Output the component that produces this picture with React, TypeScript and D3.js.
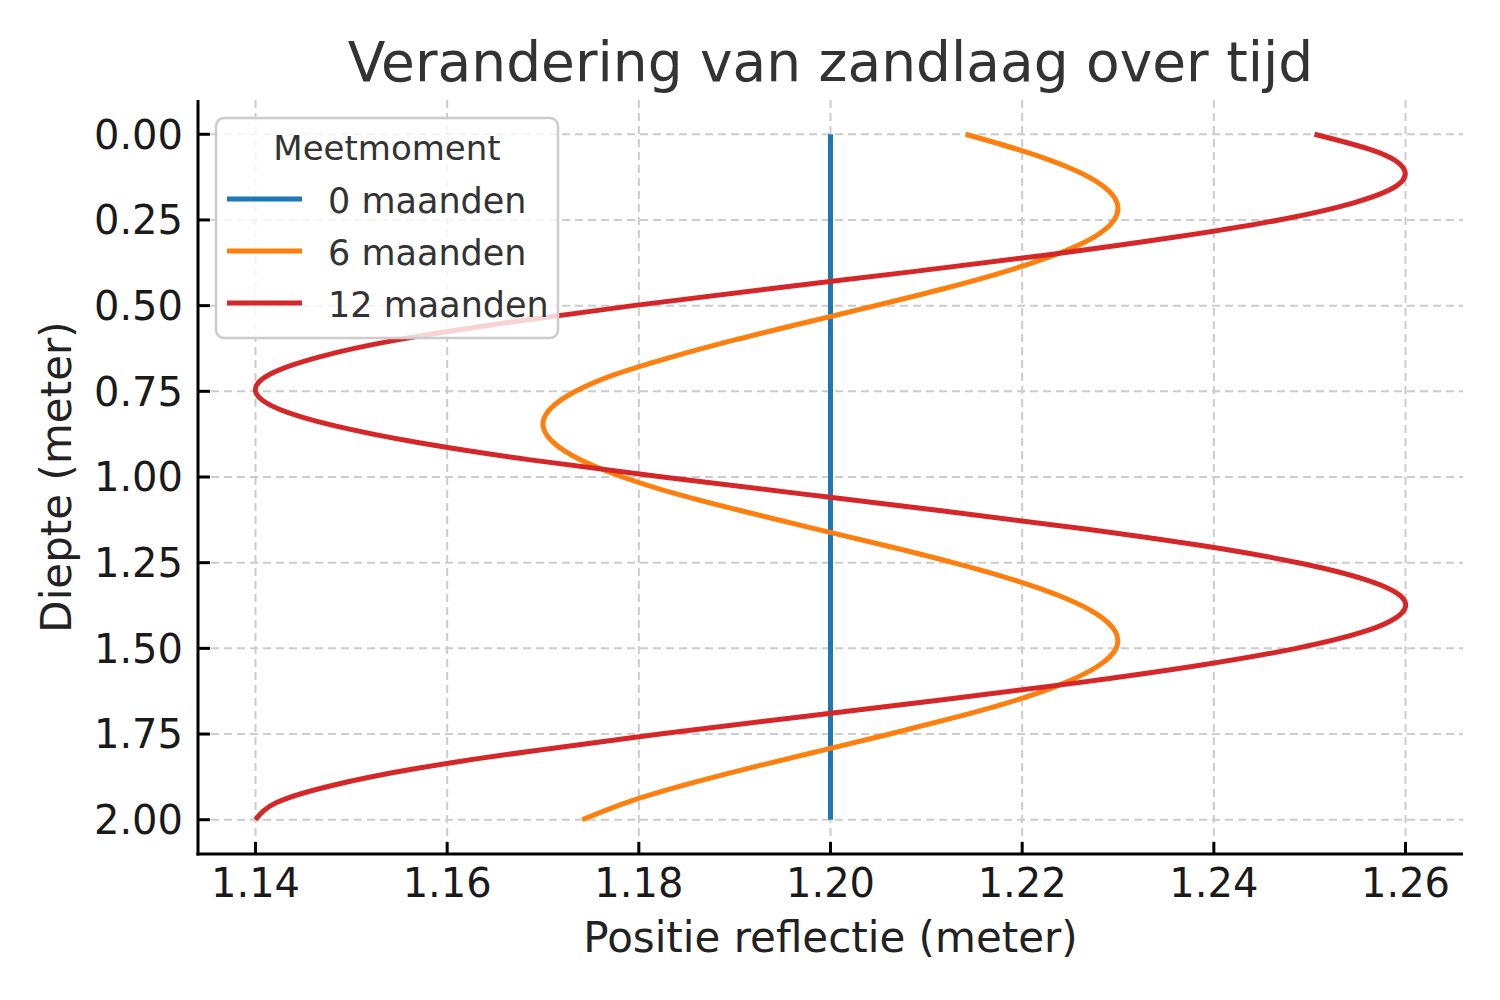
import * as React from 'react'
import * as d3 from 'd3'

// depth (meter) where each reading was taken
const depths = [
  0.0, 0.05, 0.1, 0.15, 0.2, 0.25, 0.3, 0.35, 0.4, 0.45,
  0.5, 0.55, 0.6, 0.65, 0.7, 0.75, 0.8, 0.85, 0.9, 0.95,
  1.0, 1.05, 1.1, 1.15, 1.2, 1.25, 1.3, 1.35, 1.4, 1.45,
  1.5, 1.55, 1.6, 1.65, 1.7, 1.75, 1.8, 1.85, 1.9, 1.95, 2.0,
]

const pos0 = [
  1.2, 1.2, 1.2, 1.2, 1.2, 1.2, 1.2, 1.2, 1.2, 1.2,
  1.2, 1.2, 1.2, 1.2, 1.2, 1.2, 1.2, 1.2, 1.2, 1.2,
  1.2, 1.2, 1.2, 1.2, 1.2, 1.2, 1.2, 1.2, 1.2, 1.2,
  1.2, 1.2, 1.2, 1.2, 1.2, 1.2, 1.2, 1.2, 1.2, 1.2, 1.2,
]

const pos6 = [
  1.2141, 1.2202, 1.2251, 1.2284, 1.2299, 1.2296, 1.2275, 1.2236, 1.2183, 1.2119,
  1.2047, 1.1973, 1.19, 1.1834, 1.1776, 1.1734, 1.1708, 1.17, 1.1711, 1.1739,
  1.1783, 1.184, 1.1909, 1.1982, 1.2057, 1.2128, 1.2191, 1.2242, 1.2278, 1.2297,
  1.2298, 1.228, 1.2245, 1.2195, 1.2132, 1.2062, 1.1988, 1.1914, 1.1846, 1.1787, 1.1741,
]

const pos12 = [
  1.2505, 1.2569, 1.2598, 1.2591, 1.2546, 1.2468, 1.236, 1.2232, 1.2088, 1.1939,
  1.1794, 1.1662, 1.1548, 1.1466, 1.1415, 1.14, 1.1423, 1.1482, 1.1571, 1.1687,
  1.1825, 1.1972, 1.212, 1.2262, 1.2387, 1.2488, 1.2559, 1.2596, 1.2595, 1.2558,
  1.2486, 1.2384, 1.2259, 1.2117, 1.1968, 1.1822, 1.1687, 1.1569, 1.148, 1.1422, 1.14,
]

const seriesNames = ['0 maanden', '6 maanden', '12 maanden']
const seriesColors = ['#1f77b4', '#ff7f0e', '#d62728']
const xTicks = [1.14, 1.16, 1.18, 1.2, 1.22, 1.24, 1.26]
const yTicks = [0, 0.25, 0.5, 0.75, 1.0, 1.25, 1.5, 1.75, 2.0]

const W = 1500
const H = 1000
const left = 198
const right = 1463
const top = 100
const bottom = 854
const font = 'DejaVu Sans, sans-serif'

const App = () => {
  const xScale = d3.scaleLinear().domain([1.134, 1.266]).range([left, right])
  const yScale = d3.scaleLinear().domain([-0.1, 2.1]).range([top, bottom])

  const series = [pos0, pos6, pos12]

  const line = d3.line<number>()
    .x(d => xScale(d))
    .y((d, i) => yScale(depths[i]))
    .curve(d3.curveNatural)

  return (
    <div style={{position: 'absolute', left: 0, top: 0}}>
      <svg width={W} height={H} style={{display: 'block', background: '#fff'}}>
        {/* grid */}
        {xTicks.map(t => (
          <line key={'gx' + t} x1={xScale(t)} x2={xScale(t)} y1={top} y2={bottom}
            stroke="#cccccc" strokeWidth={2} strokeDasharray="8,5" />
        ))}
        {yTicks.map(t => (
          <line key={'gy' + t} x1={left} x2={right} y1={yScale(t)} y2={yScale(t)}
            stroke="#cccccc" strokeWidth={2} strokeDasharray="8,5" />
        ))}

        {/* lines */}
        {series.map((s, i) => (
          <path key={'s' + i} d={line(s) || ''} fill="none"
            stroke={seriesColors[i]} strokeWidth={5} />
        ))}

        {/* spines */}
        <line x1={left} x2={left} y1={top} y2={bottom + 1.5} stroke="#000" strokeWidth={3} />
        <line x1={left - 1.5} x2={right} y1={bottom} y2={bottom} stroke="#000" strokeWidth={3} />

        {/* x ticks */}
        {xTicks.map(t => (
          <g key={'xt' + t}>
            <line x1={xScale(t)} x2={xScale(t)} y1={bottom} y2={bottom - 12} stroke="#000" strokeWidth={3} />
            <text x={xScale(t)} y={897} textAnchor="middle" fontFamily={font} fontSize={40} fill="#1a1a1a">
              {t.toFixed(2)}
            </text>
          </g>
        ))}

        {/* y ticks */}
        {yTicks.map(t => (
          <g key={'yt' + t}>
            <line x1={left} x2={left + 12} y1={yScale(t)} y2={yScale(t)} stroke="#000" strokeWidth={3} />
            <text x={183} y={yScale(t)} dy="0.36em" textAnchor="end" fontFamily={font} fontSize={40} fill="#1a1a1a">
              {t.toFixed(2)}
            </text>
          </g>
        ))}

        {/* labels */}
        <text x={(left + right) / 2} y={952} textAnchor="middle" fontFamily={font} fontSize={42} fill="#222">
          Positie reflectie (meter)
        </text>
        <text transform={`translate(71,${(top + bottom) / 2}) rotate(-90)`} textAnchor="middle"
          fontFamily={font} fontSize={42} fill="#222">
          Diepte (meter)
        </text>
        <text x={(left + right) / 2} y={81} textAnchor="middle" fontFamily={font} fontSize={55} fill="#333">
          Verandering van zandlaag over tijd
        </text>

        {/* legend */}
        <rect x={216} y={118} width={342} height={220} rx={8} ry={8}
          fill="#fff" fillOpacity={0.8} stroke="#cccccc" strokeWidth={2.5} />
        <text x={387} y={160} textAnchor="middle" fontFamily={font} fontSize={34} fill="#333">
          Meetmoment
        </text>
        {seriesNames.map((n, i) => (
          <g key={'lg' + i}>
            <line x1={227} x2={302} y1={199 + i * 52} y2={199 + i * 52} stroke={seriesColors[i]} strokeWidth={5} />
            <text x={328} y={213 + i * 52} fontFamily={font} fontSize={35} fill="#333">{n}</text>
          </g>
        ))}
      </svg>
    </div>
  )
}

export default App
